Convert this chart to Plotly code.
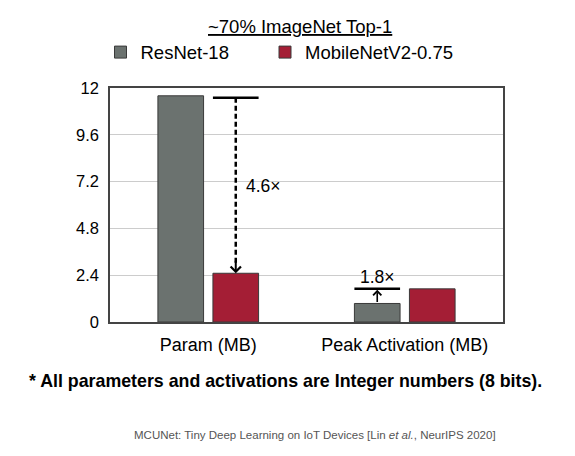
import plotly.graph_objects as go

# ---------- Data ----------
categories = ["Param (MB)", "Peak Activation (MB)"]
resnet18 = [11.6, 0.95]
mbv2_075 = [2.5, 1.7]
series_names = ["ResNet-18", "MobileNetV2-0.75"]
y_ticks = [0, 2.4, 4.8, 7.2, 9.6, 12]
y_tick_text = ["0", "2.4", "4.8", "7.2", "9.6", "12"]

# ---------- Style ----------
GRAY = "#6b726f"
RED = "#a41e35"
FONT = "Liberation Sans, Arial, Helvetica, sans-serif"

# page body adds an 8px margin, so the figure is laid out in shifted px
OFF = 8
W, H = 575 - OFF, 456 - OFF
L, T = 110 - OFF, 88 - OFF
R = W - (503 - OFF)
B = H - (322.5 - OFF)
pw, ph = W - L - R, H - T - B


def px_to_paper(x, y):
    # screen pixel -> paper coords
    return (x - OFF - L) / pw, 1 - (y - OFF - T) / ph


BARGAP = 0.44
BARGROUPGAP = 0.17
slot = (1 - BARGAP) / 2            # width of one bar slot in category units
half_bar = slot * (1 - BARGROUPGAP) / 2
off_res = -slot / 2                # ResNet bar centre offset
off_mb = slot / 2                  # MobileNet bar centre offset

fig = go.Figure()
fig.add_trace(go.Bar(
    x=categories, y=resnet18, name=series_names[0], legend="legend",
    marker=dict(color=GRAY, line=dict(color="#3a3a3a", width=1)),
))
fig.add_trace(go.Bar(
    x=categories, y=mbv2_075, name=series_names[1], legend="legend2",
    marker=dict(color=RED, line=dict(color="#3a3a3a", width=1)),
))

# ---------- Reduction annotations ----------
ratio_param = resnet18[0] / mbv2_075[0]
ratio_act = mbv2_075[1] / resnet18[1]

# Param: bar over MobileNet at ResNet height, dashed arrow down
top_y = resnet18[0] - 0.1
fig.add_shape(type="line", xref="x", yref="y",
              x0=0 + off_mb - half_bar, x1=0 + off_mb + half_bar,
              y0=top_y, y1=top_y, line=dict(color="black", width=2.5))
fig.add_shape(type="line", xref="x", yref="y",
              x0=0 + off_mb, x1=0 + off_mb, y0=top_y, y1=mbv2_075[0] + 0.5,
              line=dict(color="black", width=2.5, dash="5px,3px"))
fig.add_annotation(x=0 + off_mb, y=mbv2_075[0], ax=0, ay=-14,
                   xref="x", yref="y", text="", showarrow=True,
                   arrowhead=4, arrowsize=1, arrowwidth=2, arrowcolor="black",
                   standoff=0)
fig.add_annotation(x=0 + off_mb + 0.04, y=(top_y + mbv2_075[0]) / 2,
                   xref="x", yref="y", xanchor="left", yanchor="middle",
                   text=f"{ratio_param:.1f}×", showarrow=False,
                   font=dict(size=17.5, color="black", family=FONT))

# Peak activation: bar over ResNet at MobileNet height, arrow up
fig.add_shape(type="line", xref="x", yref="y",
              x0=1 + off_res - half_bar, x1=1 + off_res + half_bar,
              y0=mbv2_075[1], y1=mbv2_075[1], line=dict(color="black", width=2.5))
fig.add_annotation(x=1 + off_res, y=mbv2_075[1] - 0.05,
                   ax=1 + off_res, ay=resnet18[1],
                   xref="x", yref="y", axref="x", ayref="y",
                   text="", showarrow=True, arrowhead=4, arrowsize=1,
                   arrowwidth=1.6, arrowcolor="black", standoff=0)
fig.add_annotation(x=1 + off_res, y=mbv2_075[1], xref="x", yref="y",
                   yanchor="bottom", yshift=0,
                   text=f"{ratio_act:.1f}×", showarrow=False,
                   font=dict(size=17.5, color="black", family=FONT))

# ---------- Texts ----------
tx, ty = px_to_paper(300, 26)
fig.add_annotation(x=tx, y=ty, xref="paper", yref="paper",
                   text="<u>~70% ImageNet Top-1</u>", showarrow=False,
                   xanchor="center", yanchor="middle",
                   font=dict(size=18.5, color="black", family=FONT))
nx, ny = px_to_paper(285, 382)
fig.add_annotation(x=nx, y=ny, xref="paper", yref="paper",
                   text="<b>* All parameters and activations are Integer numbers (8 bits).</b>",
                   showarrow=False, xanchor="center", yanchor="middle",
                   font=dict(size=17.8, color="black", family=FONT))
fx, fy = px_to_paper(315, 436)
fig.add_annotation(x=fx, y=fy, xref="paper", yref="paper",
                   text="MCUNet: Tiny Deep Learning on IoT Devices [Lin <i>et al.</i>, NeurIPS 2020]",
                   showarrow=False, xanchor="center", yanchor="middle",
                   font=dict(size=11.5, color="#555555", family=FONT))

leg_font = dict(size=18.5, family=FONT, color="black")
l1x, ly = px_to_paper(100.5, 52.5)
l2x, _ = px_to_paper(265, 52.5)

fig.update_layout(
    width=W, height=H,
    margin=dict(l=L, r=R, t=T, b=B),
    paper_bgcolor="white", plot_bgcolor="white",
    barmode="group", bargap=BARGAP, bargroupgap=BARGROUPGAP,
    font=dict(family=FONT, color="black"),
    showlegend=True,
    legend=dict(orientation="h", x=l1x, y=ly, xanchor="left", yanchor="middle",
                font=leg_font, bgcolor="rgba(0,0,0,0)", borderwidth=0),
    legend2=dict(orientation="h", x=l2x, y=ly, xanchor="left", yanchor="middle",
                 font=leg_font, bgcolor="rgba(0,0,0,0)", borderwidth=0),
)
fig.update_xaxes(
    showline=True, linecolor="#444444", linewidth=1.5, mirror=True,
    ticks="", tickfont=dict(size=18), ticklabelstandoff=6,
)
fig.update_yaxes(
    range=[0, 12], tickvals=y_ticks, ticktext=y_tick_text,
    showline=True, linecolor="#444444", linewidth=1.5, mirror=True,
    showgrid=True, gridcolor="#cccccc", gridwidth=1,
    ticks="", tickfont=dict(size=16.5), ticklabelstandoff=6,
    zeroline=False,
)

fig.write_html("out.html")
